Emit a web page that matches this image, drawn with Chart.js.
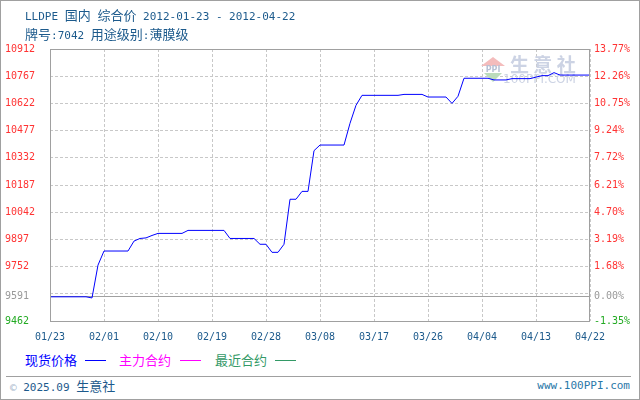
<!DOCTYPE html>
<html><head><meta charset="utf-8">
<script src="https://cdn.jsdelivr.net/npm/chart.js@4/dist/chart.umd.min.js"></script>
<style>
html,body{margin:0;padding:0;background:#fff;}
#wrap{position:relative;width:640px;height:400px;overflow:hidden;background:#fff;}
#frame{position:absolute;left:0;top:0;width:638px;height:398px;border:1px solid #a0a0a0;pointer-events:none;}
#box{position:absolute;left:0;top:0;width:640px;height:350px;}
.t{position:absolute;white-space:nowrap;font-family:"DejaVu Sans Mono",monospace;color:#1c5a8c;font-size:11px;line-height:16px;}
.c{font-family:"Noto Sans CJK SC",sans-serif;font-size:13px;}
.lg{position:absolute;white-space:nowrap;font-family:"Noto Sans CJK SC",sans-serif;font-size:13px;line-height:16px;top:352px;}
.ln{position:absolute;height:1px;top:360px;}
</style>
</head><body>
<div id="wrap">
  <div id="box"><canvas id="cv"></canvas></div>
  <div class="t" style="left:25px;top:7px;">LLDPE <span class="c">国内</span> <span class="c">综合价</span> 2012-01-23 - 2012-04-22</div>
  <div class="t" style="left:25px;top:26px;"><span class="c">牌号</span>:7042 <span class="c">用途级别</span>:<span class="c">薄膜级</span></div>

  <div class="lg" style="left:25px;color:#0000ff;">现货价格</div>
  <div class="ln" style="left:85px;width:21px;background:#0000ff;"></div>
  <div class="lg" style="left:119px;color:#ff00ff;">主力合约</div>
  <div class="ln" style="left:180px;width:21px;background:#ff00ff;"></div>
  <div class="lg" style="left:215px;color:#339966;">最近合约</div>
  <div class="ln" style="left:275px;width:21px;background:#339966;"></div>

  <div style="position:absolute;left:6px;top:376px;width:625px;height:1px;background:#a0a0a0;"></div>
  <div class="t" style="left:10px;top:378px;font-size:11px;"><span style="color:#a8b8cc;">©</span> 2025.09 <span class="c">生意社</span></div>
  <div class="t" style="right:10px;top:378px;color:#2a78a8;">www.100PPI.com</div>
  <div id="frame"></div>
</div>
<script>
const xTickLabels = ['01/23','02/01','02/10','02/19','02/28','03/08','03/17','03/26','04/04','04/13','04/22'];
// daily spot price 2012-01-23 .. 2012-04-22 (91 days)
const spotPrice = [
  9591,9591,9591,9591,9591,9591,9591,9585,9760,9835,
  9835,9835,9835,9835,9888,9902,9905,9918,9929,9929,
  9929,9929,9929,9945,9945,9945,9945,9945,9945,9945,
  9902,9902,9902,9902,9902,9871,9871,9828,9828,9871,
  10111,10111,10153,10153,10370,10400,10400,10400,10400,10400,
  10516,10612,10665,10665,10665,10665,10665,10665,10665,10670,
  10670,10670,10670,10656,10656,10656,10656,10622,10660,10756,
  10756,10756,10756,10756,10747,10747,10747,10754,10754,10754,
  10754,10762,10770,10770,10786,10773,10773,10773,10773,10773,
  10773
];
const mainContract = [];
const nearContract = [];
const baseValue = 9591;
const yMin = 9462, yMax = 10912;
const yGridValues   = [9462, 9591, 9607, 9752, 9897, 10042, 10187, 10332, 10477, 10622, 10767, 10912];
const leftTickLabels  = ['9462','9591','','9752','9897','10042','10187','10332','10477','10622','10767','10912'];
const rightTickLabels = ['-1.35%','0.00%','','1.68%','3.19%','4.70%','6.21%','7.72%','9.24%','10.75%','12.26%','13.77%'];

const tickFont = {family:'DejaVu Sans Mono', size:10};

function tickColor(v){ if(v===baseValue) return '#999999'; if(v===yMin) return '#22aa22'; return '#ff3333'; }
function labelAt(list, v){ const i = yGridValues.indexOf(v); return i < 0 ? '' : list[i]; }

const framePlugin = {
  id:'frame',
  beforeDatasetsDraw(chart){
    const {ctx} = chart;
    ctx.save();
    const lx = 493, ty = 57;
    ctx.fillStyle = '#f4bcbc';
    ctx.beginPath(); ctx.moveTo(lx, ty); ctx.lineTo(lx+12, ty+9); ctx.lineTo(lx-12, ty+9); ctx.closePath(); ctx.fill();
    ctx.fillStyle = '#bcdcbc';
    ctx.beginPath(); ctx.moveTo(lx-9, ty+16); ctx.lineTo(lx+9, ty+16); ctx.lineTo(lx, ty+25); ctx.closePath(); ctx.fill();
    ctx.fillStyle = '#b8c0d4';
    ctx.font = 'bold 8px "DejaVu Sans"';
    ctx.textAlign = 'center'; ctx.textBaseline = 'middle';
    ctx.fillText('PPI', lx, ty+12.5);
    ctx.fillStyle = '#ccd3e4';
    ctx.font = 'bold 19px "Noto Sans CJK SC"';
    ctx.textAlign = 'left';
    ctx.fillText('生 意 社', 510, 65);
    ctx.font = '12px "DejaVu Sans"';
    ctx.fillText('100PPI.COM', 503, 80);
    ctx.restore();
  },
  afterDatasetsDraw(chart){
    const {ctx, chartArea:a} = chart;
    ctx.save();
    ctx.strokeStyle = '#a0a0a0'; ctx.lineWidth = 1;
    ctx.strokeRect(Math.round(a.left)+0.5, Math.round(a.top)+0.5, Math.round(a.right-a.left)-1, Math.round(a.bottom-a.top));
    ctx.restore();
  }
};

new Chart(document.getElementById('cv'), {
  type:'line',
  data:{datasets:[
    {label:'现货价格', data: spotPrice.map((v,i)=>({x:i,y:v})), borderColor:'#0000ff', borderWidth:1, pointRadius:0, tension:0, fill:false},
    {label:'主力合约', data: mainContract, borderColor:'#ff00ff', borderWidth:1, pointRadius:0},
    {label:'最近合约', data: nearContract, borderColor:'#339966', borderWidth:1, pointRadius:0}
  ]},
  options:{
    responsive:true, maintainAspectRatio:false, animation:false,
    layout:{padding:{top:49,left:5,right:0,bottom:0}},
    plugins:{legend:{display:false}, tooltip:{enabled:false}, title:{display:false}},
    scales:{
      x:{type:'linear', min:0, max:90,
        ticks:{stepSize:9, autoSkip:false, maxRotation:0, padding:10, font:tickFont, color:'#1c5a8c',
          callback:(v)=>xTickLabels[Math.round(v/9)]},
        grid:{drawTicks:false, color:'#c8c8c8'},
        border:{display:false, dash:[3,2]},
        afterFit(s){ s.height = 29; }
      },
      y:{position:'left', min:yMin, max:yMax,
        afterBuildTicks(s){ s.ticks = yGridValues.map(v=>({value:v})); },
        ticks:{crossAlign:'far', padding:3, font:tickFont,
          color:(c)=>tickColor(c.tick.value),
          callback:(v)=>labelAt(leftTickLabels, v)},
        grid:{drawTicks:false, color:(c)=> (c.tick && c.tick.value===baseValue) ? '#a0a0a0' : '#c8c8c8'},
        border:{display:false, dash:(c)=> (c.tick && c.tick.value===baseValue) ? [] : [3,2]},
        afterFit(s){ s.width = 45; }
      },
      y2:{position:'right', min:yMin, max:yMax,
        afterBuildTicks(s){ s.ticks = yGridValues.map(v=>({value:v})); },
        ticks:{padding:4, font:tickFont,
          color:(c)=>tickColor(c.tick.value),
          callback:(v)=>labelAt(rightTickLabels, v)},
        grid:{display:false, drawTicks:false},
        border:{display:false},
        afterFit(s){ s.width = 50; }
      }
    }
  },
  plugins:[framePlugin]
});
</script>
</body></html>
